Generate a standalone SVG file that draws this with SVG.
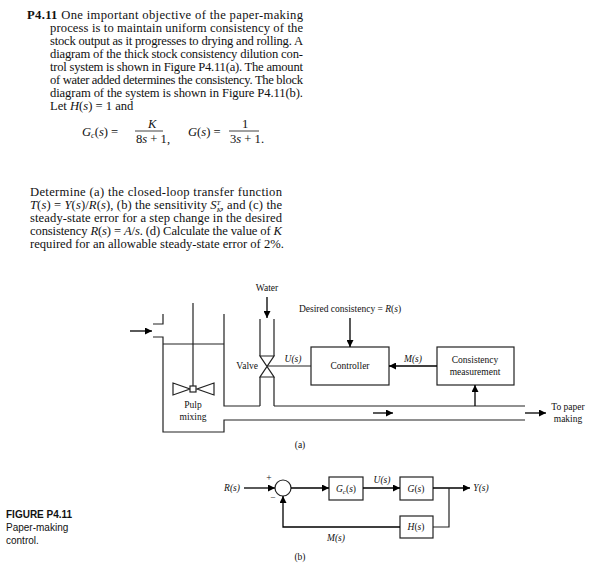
<svg xmlns="http://www.w3.org/2000/svg" width="614" height="580" viewBox="0 0 614 580">
<defs>
<marker id="ah" viewBox="0 0 10 10" refX="10" refY="5" markerWidth="7" markerHeight="7" markerUnits="userSpaceOnUse" orient="auto"><path d="M0,0L10,5L0,10z" fill="#000"/></marker>
</defs>
<style>
.t{font-family:"Liberation Serif",serif;font-size:12.6px;fill:#111}
.s{font-family:"Liberation Serif",serif;font-size:9.5px;fill:#111}
.i{font-style:italic}
.ln{stroke:#222;stroke-width:1.2;fill:none}
.ar{stroke:#000;stroke-width:1.3;fill:none;marker-end:url(#ah)}
.bx{stroke:#222;stroke-width:1.2;fill:#fff}
.f{font-family:"Liberation Sans",sans-serif;font-size:10px;fill:#111}
</style>
<rect width="614" height="580" fill="#fff"/>
<g id="problem" class="t">
<text x="27" y="19" textLength="276" lengthAdjust="spacing"><tspan font-weight="bold">P4.11</tspan>  One important objective of the paper-making</text>
<text x="50" y="32" textLength="253" lengthAdjust="spacing">process is to maintain uniform consistency of the</text>
<text x="50" y="45" textLength="253" lengthAdjust="spacing">stock output as it progresses to drying and rolling. A</text>
<text x="50" y="58" textLength="253" lengthAdjust="spacing">diagram of the thick stock consistency dilution con-</text>
<text x="50" y="71" textLength="253" lengthAdjust="spacing">trol system is shown in Figure P4.11(a). The amount</text>
<text x="50" y="84" textLength="253" lengthAdjust="spacing">of water added determines the consistency. The block</text>
<text x="50" y="97" textLength="253" lengthAdjust="spacing">diagram of the system is shown in Figure P4.11(b).</text>
<text x="50" y="110">Let <tspan class="i">H</tspan>(<tspan class="i">s</tspan>) = 1 and</text>
<text x="82" y="136"><tspan class="i">G<tspan font-size="8" dy="2">c</tspan></tspan><tspan dy="-2">(</tspan><tspan class="i">s</tspan>) =</text>
<text x="148" y="128" class="i">K</text>
<line x1="135" y1="131" x2="163" y2="131" stroke="#111" stroke-width="0.8"/>
<text x="136" y="143">8<tspan class="i">s</tspan> + 1,</text>
<text x="188" y="136"><tspan class="i">G</tspan>(<tspan class="i">s</tspan>) =</text>
<text x="242" y="128">1</text>
<line x1="229" y1="131" x2="259" y2="131" stroke="#111" stroke-width="0.8"/>
<text x="230" y="143">3<tspan class="i">s</tspan> + 1.</text>
<text x="30" y="196" textLength="252" lengthAdjust="spacing">Determine (a) the closed-loop transfer function</text>
<text x="30" y="209" textLength="252" lengthAdjust="spacing"><tspan class="i">T</tspan>(<tspan class="i">s</tspan>) = <tspan class="i">Y</tspan>(<tspan class="i">s</tspan>)/<tspan class="i">R</tspan>(<tspan class="i">s</tspan>), (b) the sensitivity <tspan class="i">S</tspan><tspan font-size="7" class="i" dy="3">K</tspan><tspan font-size="7" class="i" dx="-5" dy="-7">T</tspan><tspan dy="4">, and (c) the</tspan></text>
<text x="30" y="222" textLength="252" lengthAdjust="spacing">steady-state error for a step change in the desired</text>
<text x="30" y="235" textLength="252" lengthAdjust="spacing">consistency <tspan class="i">R</tspan>(<tspan class="i">s</tspan>) = <tspan class="i">A</tspan>/<tspan class="i">s</tspan>. (d) Calculate the value of <tspan class="i">K</tspan></text>
<text x="30" y="248">required for an allowable steady-state error of 2%.</text>
</g>
<g id="tank">
<path class="ln" d="M163,314V324H153M153,337H163V432H224V420H525M224,314V406H260"/>
<path class="ln" d="M274,406H525"/>
<line class="ln" x1="163" y1="344" x2="224" y2="344"/>
<line class="ln" x1="193" y1="303" x2="193" y2="386"/>
<path class="ln" d="M173,383L190,389L173,395zM214,383L197,389L214,395z"/>
<rect class="bx" x="190" y="386" width="6" height="6"/>
<text class="s" x="193" y="408" text-anchor="middle">Pulp</text>
<text class="s" x="193" y="420" text-anchor="middle">mixing</text>
<line class="ar" x1="130" y1="331" x2="152" y2="331"/>
</g>
<g id="valve">
<path class="ln" d="M260,319V356M274,319V356M260,377V406M274,377V406"/>
<path class="ln" d="M260,356H274L260,377H274z"/>
<text class="s" x="258" y="369" text-anchor="end">Valve</text>
<text class="s" x="267" y="291" text-anchor="middle">Water</text>
<line class="ar" x1="267" y1="297" x2="267" y2="318"/>
</g>
<g id="controller">
<rect class="bx" x="311" y="347" width="78" height="38"/>
<text class="s" x="350" y="369" text-anchor="middle">Controller</text>
<text class="s" x="350" y="312" text-anchor="middle">Desired consistency = <tspan class="i">R</tspan>(<tspan class="i">s</tspan>)</text>
</g>
<g id="measurement">
<rect class="bx" x="437" y="347" width="77" height="38"/>
<text class="s" x="475" y="363" text-anchor="middle">Consistency</text>
<text class="s" x="475" y="375" text-anchor="middle">measurement</text>
</g>
<g id="connectors-a">
<line class="ar" x1="350" y1="318" x2="350" y2="347"/>
<line class="ln" x1="267" y1="366" x2="311" y2="366"/>
<text class="s i" x="293" y="362" text-anchor="middle">U(s)</text>
<line class="ar" x1="437" y1="366" x2="389" y2="366"/>
<text class="s i" x="413" y="362" text-anchor="middle">M(s)</text>
<line class="ar" x1="475" y1="406" x2="475" y2="385"/>
<line class="ar" x1="373" y1="413" x2="393" y2="413"/>
<line class="ar" x1="525" y1="413" x2="546" y2="413"/>
<text class="s" x="568" y="410" text-anchor="middle">To paper</text>
<text class="s" x="568" y="422" text-anchor="middle">making</text>
<text class="s" x="300" y="448" text-anchor="middle">(a)</text>
</g>
<g id="sum"><circle class="bx" cx="283" cy="488" r="8"/></g>
<g id="gc"><rect class="bx" x="329" y="477" width="34" height="23"/><text class="s" x="346" y="492" text-anchor="middle"><tspan class="i">G</tspan><tspan font-size="7" dy="2" class="i">c</tspan><tspan dy="-2">(</tspan><tspan class="i">s</tspan>)</text></g>
<g id="g"><rect class="bx" x="400" y="477" width="33" height="23"/><text class="s" x="416" y="492" text-anchor="middle"><tspan class="i">G</tspan>(<tspan class="i">s</tspan>)</text></g>
<g id="h"><rect class="bx" x="400" y="516" width="33" height="22"/><text class="s" x="416" y="530" text-anchor="middle"><tspan class="i">H</tspan>(<tspan class="i">s</tspan>)</text></g>
<g id="connectors-b">
<text class="s i" x="232" y="491" text-anchor="middle">R(s)</text>
<line class="ar" x1="244" y1="488" x2="275" y2="488"/>
<text class="s" x="269" y="481" text-anchor="middle">+</text>
<text class="s" x="273" y="501" text-anchor="middle">−</text>
<line class="ar" x1="291" y1="488" x2="329" y2="488"/>
<line class="ar" x1="363" y1="488" x2="400" y2="488"/>
<text class="s i" x="382" y="483" text-anchor="middle">U(s)</text>
<line class="ar" x1="433" y1="488" x2="470" y2="488"/>
<text class="s i" x="481" y="491" text-anchor="middle">Y(s)</text>
<path class="ln" d="M449,488V527H433"/>
<path class="ar" d="M400,527H283V496"/>
<text class="s i" x="336" y="541" text-anchor="middle">M(s)</text>
<text class="s" x="300" y="560" text-anchor="middle">(b)</text>
</g>
<g id="caption" class="f">
<text x="6" y="518" font-weight="bold">FIGURE P4.11</text>
<text x="6" y="531">Paper-making</text>
<text x="6" y="544">control.</text>
</g>
</svg>
